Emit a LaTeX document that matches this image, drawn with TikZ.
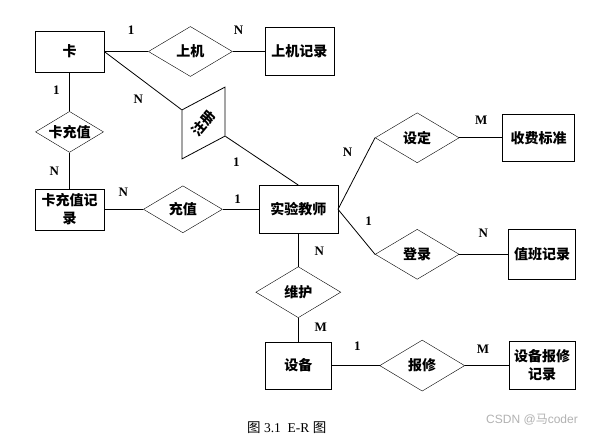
\documentclass[tikz,border=0pt]{standalone}
\usepackage{fontspec}
\setmainfont{Liberation Serif}
\newfontfamily\cjk{Noto Sans CJK SC}
\newfontfamily\wmfont{Liberation Sans}
\usetikzlibrary{shapes.geometric, positioning}

\begin{document}
\begin{tikzpicture}[
    x=1pt, y=1pt,
    entity/.style={draw, rectangle, minimum width=69pt, minimum height=48pt, inner sep=1pt, text centered, align=center, font=\cjk\bfseries\fontsize{14}{18}\selectfont},
    relation/.style={draw, diamond, aspect=1.7, minimum width=84pt, minimum height=50pt, inner sep=0pt, text centered, align=center, font=\cjk\bfseries\fontsize{14}{18}\selectfont},
    conn/.style={line width=0.8pt},
    cardinal/.style={font=\bfseries\fontsize{13}{13}\selectfont, inner sep=0pt}
]

% 画布
\fill [white] (0,0) rectangle (597,-436);
\useasboundingbox (0,0) rectangle (597,-436);

% 实体与联系
\node (ka) [entity, minimum height=41pt] at (69.5,-51.5) {卡};
\node (shangji) [relation, right=44pt of ka] {上机};
\node (sjjl) [entity, right=32pt of shangji] {上机记录};

\node (kacz) [relation, minimum width=68pt, minimum height=41pt, below=39pt of ka] {卡充值};
\node (kczjl) [entity, minimum height=41pt, below=36pt of kacz] {卡充值记\\录};
\node (chongzhi) [relation, minimum width=79pt, minimum height=47pt, right=39pt of kczjl] {充值};
\node (jiaoshi) [entity, minimum width=79pt, right=36pt of chongzhi] {实验教师};

% 注册（斜框）
\node (zhuce) [draw, conn, yslant=0.53, minimum width=43pt, minimum height=49pt] at (203.5,-123) {};
\node (zhuce_text) [rotate=50, font=\cjk\bfseries\fontsize{14}{18}\selectfont] at (zhuce) {注册};

\node (sheding) [relation, right=37pt of jiaoshi, yshift=71.5pt] {设定};
\node (sfbz) [entity, minimum width=72pt, minimum height=47pt, right=43pt of sheding] {收费标准};
\node (denglu) [relation, right=37pt of jiaoshi, yshift=-45pt] {登录};
\node (zbjl) [entity, minimum width=67pt, minimum height=50pt, right=49pt of denglu] {值班记录};

\node (weihu) [relation, minimum width=85pt, minimum height=51pt, below=33pt of jiaoshi] {维护};
\node (shebei) [entity, minimum width=66pt, minimum height=47pt, below=24pt of weihu] {设备};
\node (baoxiu) [relation, minimum width=85pt, minimum height=51pt, right=48pt of shebei] {报修};
\node (sbbxjl) [entity, minimum width=66pt, right=44pt of baoxiu] {设备报修\\记录};

% 连线与基数
\draw [conn] (ka.east) -- (shangji.west) node[pos=0.61, above=17pt, cardinal] {1};
\draw [conn] (shangji.east) -- (sjjl.west) node[pos=0.19, above=17pt, cardinal] {N};
\draw [conn] (ka.south) -- (kacz.north) node[pos=0.46, left=9.5pt, cardinal] {1};
\draw [conn] (kacz.south) -- (kczjl.north) node[pos=0.53, left=10pt, cardinal] {N};
\draw [conn] (ka.east) -- (zhuce.north west) node[pos=0.44, below=17.5pt, cardinal] {N};
\draw [conn] (zhuce.south east) -- (jiaoshi.north) node[pos=0.15, below=13.5pt, cardinal] {1};
\draw [conn] (kczjl.east) -- (chongzhi.west) node[pos=0.49, above=12pt, cardinal] {N};
\draw [conn] (chongzhi.east) -- (jiaoshi.west) node[pos=0.42, above=5pt, cardinal] {1};
\draw [conn] (jiaoshi.east) -- (sheding.west) node[pos=0.8, left=15pt, cardinal] {N};
\draw [conn] (sheding.east) -- (sfbz.west) node[pos=0.51, above=13pt, cardinal] {M};
\draw [conn] (jiaoshi.east) -- (denglu.west) node[pos=0.27, right=17pt, cardinal] {1};
\draw [conn] (denglu.east) -- (zbjl.west) node[pos=0.49, above=16.5pt, cardinal] {N};
\draw [conn] (jiaoshi.south) -- (weihu.north) node[pos=0.55, right=16pt, cardinal] {N};
\draw [conn] (weihu.south) -- (shebei.north) node[pos=0.375, right=16pt, cardinal] {M};
\draw [conn] (shebei.east) -- (baoxiu.west) node[pos=0.54, above=15pt, cardinal] {1};
\draw [conn] (baoxiu.east) -- (sbbxjl.west) node[pos=0.41, above=12pt, cardinal] {M};

% 图题与水印
\node (caption) [inner sep=0pt, font=\fontsize{13.5}{14}\selectfont, below=32pt of shebei, xshift=-11.5pt] {{\cjk 图} 3.1\ \ E-R {\cjk 图}};
\node (csdn) [inner sep=0pt, text=gray!60, font=\wmfont\fontsize{12}{13}\selectfont] at (532,-420) {CSDN @{\cjk 马}coder};

\end{tikzpicture}
\end{document}
